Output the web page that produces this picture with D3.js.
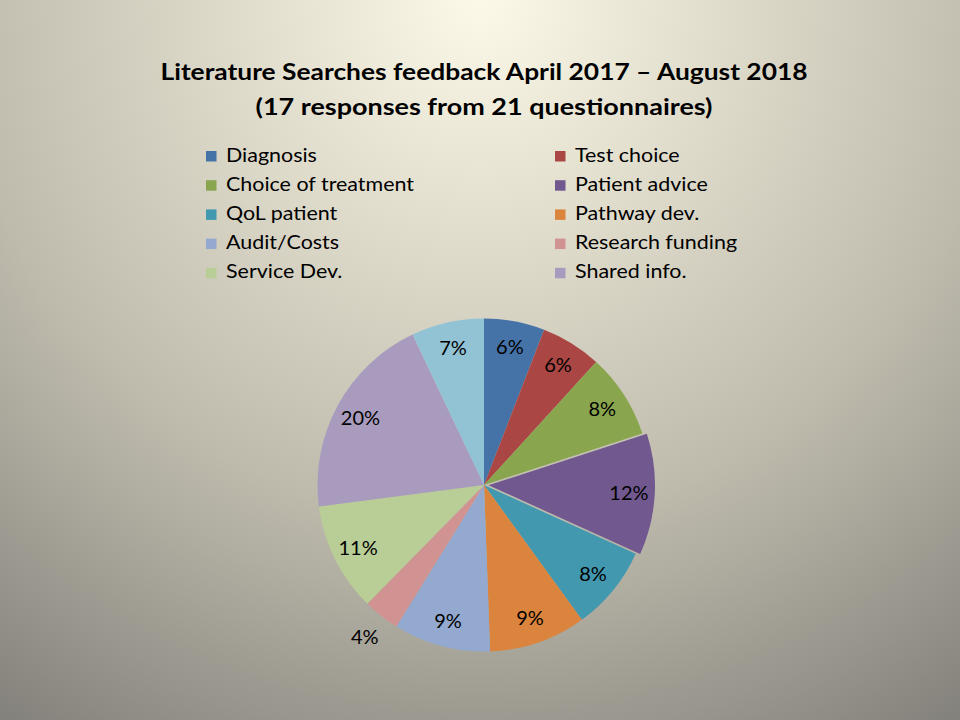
<!DOCTYPE html>
<html lang="en">
<head>
	<meta charset="UTF-8">
	<title>Literature Searches feedback</title>
	<script src="https://d3js.org/d3.v7.min.js"></script>
	<style>
		body { margin: 0; }
		svg { display: block; font-family: Lato, "Open Sans", sans-serif; }
	</style>
</head>
<body>
<svg id="chart" width="960" height="720"></svg>
<script>
	// answers counted per category (85 ticks in all)
	var categories = ["Diagnosis", "Test choice", "Choice of treatment", "Patient advice", "QoL patient",
		"Pathway dev.", "Audit/Costs", "Research funding", "Service Dev.", "Shared info.", "Other"];
	var counts = [5, 5, 7, 10, 7, 8, 8, 3, 9, 17, 6];
	var colours = ["#4572A7", "#AA4643", "#89A54E", "#71588F", "#4198AF",
		"#DB843D", "#93A9CF", "#D19392", "#B9CD96", "#A99BBD", "#92C3D5"];
	var titleLines = ["Literature Searches feedback April 2017 \u2013 August 2018",
		"(17 responses from 21 questionnaires)"];
	var pulledOut = "Patient advice";
	var legendShown = 10; // last entry fell off the legend in the original slide

	var svg = d3.select("#chart");
	var W = 960, H = 720;

	// background
	var grad = svg.append("defs").append("radialGradient")
		.attr("id", "bg")
		.attr("gradientUnits", "userSpaceOnUse")
		.attr("cx", 480).attr("cy", 0).attr("r", 870);
	grad.append("stop").attr("offset", 0).attr("stop-color", "#FDF9E8");
	grad.append("stop").attr("offset", 0.3).attr("stop-color", "#DEDACA");
	grad.append("stop").attr("offset", 0.6).attr("stop-color", "#BEBBAD");
	grad.append("stop").attr("offset", 1).attr("stop-color", "#82807A");
	svg.append("rect").attr("width", W).attr("height", H).attr("fill", "url(#bg)");

	// title
	var titleWidths = [647, 457];
	svg.selectAll("text.title")
		.data(titleLines)
		.enter()
		.append("text")
		.attr("class", "title")
		.attr("x", 484)
		.attr("y", function(d, i) { return 80 + i * 35; })
		.attr("text-anchor", "middle")
		.attr("font-size", 22)
		.attr("font-weight", "bold")
		.attr("fill", "#000")
		.attr("textLength", function(d, i) { return titleWidths[i]; })
		.attr("lengthAdjust", "spacingAndGlyphs")
		.text(function(d) { return d; });

	// legend, two columns, filled row by row
	var legend = svg.selectAll("g.legend")
		.data(categories.slice(0, legendShown))
		.enter()
		.append("g")
		.attr("class", "legend")
		.attr("transform", function(d, i) {
			return "translate(" + (i % 2 == 0 ? 206 : 555) + "," + (161.5 + Math.floor(i / 2) * 29.2) + ")";
		});
	legend.append("rect")
		.attr("x", 0).attr("y", -10.5)
		.attr("width", 10.5).attr("height", 10.5)
		.attr("fill", function(d, i) { return colours[i]; });
	legend.append("text")
		.attr("transform", "translate(20,0) scale(1.1,1)")
		.attr("font-size", 19.5)
		.attr("fill", "#000")
		.text(function(d) { return d; });

	// pie
	var cx = 484, cy = 485, r = 166.5;
	var total = d3.sum(counts);
	var rows = categories.map(function(c, i) { return { name: c, count: counts[i], colour: colours[i] }; });

	var pie = d3.pie().sort(null).value(function(d) { return d.count; });
	var arc = d3.arc().innerRadius(0).outerRadius(r);
	var inLabel = d3.arc().innerRadius(r * 0.845).outerRadius(r * 0.845);
	var outLabel = d3.arc().innerRadius(r * 1.16).outerRadius(r * 1.16);

	function shift(d) {
		if (d.data.name != pulledOut) return [0, 0];
		var a = (d.startAngle + d.endAngle) / 2;
		return [Math.sin(a) * 4.5, -Math.cos(a) * 4.5];
	}

	var slices = svg.append("g")
		.attr("transform", "translate(" + cx + "," + cy + ")")
		.selectAll("g")
		.data(pie(rows))
		.enter()
		.append("g")
		.attr("transform", function(d) { return "translate(" + shift(d) + ")"; });

	slices.append("path")
		.attr("d", arc)
		.attr("fill", function(d) { return d.data.colour; });

	slices.append("text")
		.attr("transform", function(d) {
			var small = d.data.count / total < 0.04;
			return "translate(" + (small ? outLabel : inLabel).centroid(d) + ")";
		})
		.attr("text-anchor", "middle")
		.attr("dy", "0.35em")
		.attr("font-size", 20)
		.attr("fill", "#000")
		.text(function(d) { return Math.round(d.data.count / total * 100) + "%"; });
</script>
</body>
</html>
